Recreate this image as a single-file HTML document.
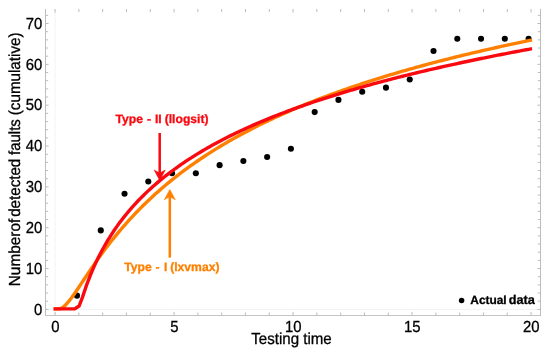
<!DOCTYPE html>
<html><head><meta charset="utf-8"><title>Chart</title>
<style>html,body{margin:0;padding:0;background:#fff}svg{display:block}text{text-rendering:geometricPrecision}.t{font-family:'Liberation Sans',sans-serif}</style></head>
<body>
<svg width="550" height="354" viewBox="0 0 550 354">
<rect width="550" height="354" fill="#fff"/>
<line x1="55.07" y1="9" x2="55.07" y2="315.5" stroke="#f3f3f3" stroke-width="1"/>
<line x1="45.5" y1="309.5" x2="540.5" y2="309.5" stroke="#f3f3f3" stroke-width="1"/>
<line x1="45.5" y1="9" x2="45.5" y2="316" stroke="#bdbdbd" stroke-width="1"/>
<line x1="540.5" y1="9" x2="540.5" y2="316" stroke="#bdbdbd" stroke-width="1"/>
<line x1="45" y1="315.5" x2="541" y2="315.5" stroke="#c4c4c4" stroke-width="1"/>
<path d="M55.07,315.5v-3.6M55.07,9v3.6M78.87,315.5v-3.0M78.87,9v3.0M102.67,315.5v-3.0M102.67,9v3.0M126.47,315.5v-3.0M126.47,9v3.0M150.27,315.5v-3.0M150.27,9v3.0M174.07,315.5v-3.6M174.07,9v3.6M197.87,315.5v-3.0M197.87,9v3.0M221.67,315.5v-3.0M221.67,9v3.0M245.47,315.5v-3.0M245.47,9v3.0M269.27,315.5v-3.0M269.27,9v3.0M293.07,315.5v-3.6M293.07,9v3.6M316.87,315.5v-3.0M316.87,9v3.0M340.67,315.5v-3.0M340.67,9v3.0M364.47,315.5v-3.0M364.47,9v3.0M388.27,315.5v-3.0M388.27,9v3.0M412.07,315.5v-3.6M412.07,9v3.6M435.87,315.5v-3.0M435.87,9v3.0M459.67,315.5v-3.0M459.67,9v3.0M483.47,315.5v-3.0M483.47,9v3.0M507.27,315.5v-3.0M507.27,9v3.0M531.07,315.5v-3.6M531.07,9v3.6M45.5,309.40h3.1M540.5,309.40h-3.1M45.5,301.23h2.7M540.5,301.23h-2.7M45.5,293.06h2.7M540.5,293.06h-2.7M45.5,284.90h2.7M540.5,284.90h-2.7M45.5,276.73h2.7M540.5,276.73h-2.7M45.5,268.56h3.1M540.5,268.56h-3.1M45.5,260.39h2.7M540.5,260.39h-2.7M45.5,252.22h2.7M540.5,252.22h-2.7M45.5,244.06h2.7M540.5,244.06h-2.7M45.5,235.89h2.7M540.5,235.89h-2.7M45.5,227.72h3.1M540.5,227.72h-3.1M45.5,219.55h2.7M540.5,219.55h-2.7M45.5,211.38h2.7M540.5,211.38h-2.7M45.5,203.22h2.7M540.5,203.22h-2.7M45.5,195.05h2.7M540.5,195.05h-2.7M45.5,186.88h3.1M540.5,186.88h-3.1M45.5,178.71h2.7M540.5,178.71h-2.7M45.5,170.54h2.7M540.5,170.54h-2.7M45.5,162.38h2.7M540.5,162.38h-2.7M45.5,154.21h2.7M540.5,154.21h-2.7M45.5,146.04h3.1M540.5,146.04h-3.1M45.5,137.87h2.7M540.5,137.87h-2.7M45.5,129.70h2.7M540.5,129.70h-2.7M45.5,121.54h2.7M540.5,121.54h-2.7M45.5,113.37h2.7M540.5,113.37h-2.7M45.5,105.20h3.1M540.5,105.20h-3.1M45.5,97.03h2.7M540.5,97.03h-2.7M45.5,88.86h2.7M540.5,88.86h-2.7M45.5,80.70h2.7M540.5,80.70h-2.7M45.5,72.53h2.7M540.5,72.53h-2.7M45.5,64.36h3.1M540.5,64.36h-3.1M45.5,56.19h2.7M540.5,56.19h-2.7M45.5,48.02h2.7M540.5,48.02h-2.7M45.5,39.86h2.7M540.5,39.86h-2.7M45.5,31.69h2.7M540.5,31.69h-2.7M45.5,23.52h3.1M540.5,23.52h-3.1M45.5,15.35h2.7M540.5,15.35h-2.7" stroke="#bcbcbc" stroke-width="1" fill="none"/>
<circle cx="77.00" cy="295.65" r="3.05" fill="#000"/>
<circle cx="100.77" cy="230.40" r="3.05" fill="#000"/>
<circle cx="124.53" cy="193.69" r="3.05" fill="#000"/>
<circle cx="148.30" cy="181.45" r="3.05" fill="#000"/>
<circle cx="172.07" cy="173.30" r="3.05" fill="#000"/>
<circle cx="195.84" cy="173.30" r="3.05" fill="#000"/>
<circle cx="219.61" cy="165.14" r="3.05" fill="#000"/>
<circle cx="243.37" cy="161.06" r="3.05" fill="#000"/>
<circle cx="267.14" cy="156.98" r="3.05" fill="#000"/>
<circle cx="290.91" cy="148.82" r="3.05" fill="#000"/>
<circle cx="314.68" cy="112.12" r="3.05" fill="#000"/>
<circle cx="338.45" cy="99.88" r="3.05" fill="#000"/>
<circle cx="362.21" cy="91.72" r="3.05" fill="#000"/>
<circle cx="385.98" cy="87.65" r="3.05" fill="#000"/>
<circle cx="409.75" cy="79.49" r="3.05" fill="#000"/>
<circle cx="433.52" cy="50.94" r="3.05" fill="#000"/>
<circle cx="457.29" cy="38.70" r="3.05" fill="#000"/>
<circle cx="481.05" cy="38.70" r="3.05" fill="#000"/>
<circle cx="504.82" cy="38.70" r="3.05" fill="#000"/>
<circle cx="528.59" cy="38.70" r="3.05" fill="#000"/>
<path d="M53.60,308.90 L55.07,308.90 L57.45,308.90 L59.83,308.90 L62.21,307.83 L64.59,305.96 L66.97,303.53 L69.35,300.68 L71.73,297.54 L74.11,294.20 L76.49,290.74 L78.87,287.20 L81.25,283.62 L83.63,280.03 L86.01,276.45 L88.39,272.89 L90.77,269.37 L93.15,265.89 L95.53,262.47 L97.91,259.09 L100.29,255.77 L102.67,252.51 L105.05,249.31 L107.43,246.17 L109.81,243.08 L112.19,240.06 L114.57,237.09 L116.95,234.18 L119.33,231.32 L121.71,228.52 L124.09,225.77 L126.47,223.08 L128.85,220.44 L131.23,217.84 L133.61,215.29 L135.99,212.79 L138.37,210.34 L140.75,207.93 L143.13,205.56 L145.51,203.24 L147.89,200.96 L150.27,198.71 L152.65,196.51 L155.03,194.34 L157.41,192.21 L159.79,190.12 L162.17,188.06 L164.55,186.03 L166.93,184.04 L169.31,182.07 L171.69,180.14 L174.07,178.24 L176.45,176.37 L178.83,174.53 L181.21,172.71 L183.59,170.93 L185.97,169.17 L188.35,167.43 L190.73,165.72 L193.11,164.04 L195.49,162.38 L197.87,160.74 L200.25,159.12 L202.63,157.53 L205.01,155.96 L207.39,154.41 L209.77,152.88 L212.15,151.37 L214.53,149.88 L216.91,148.41 L219.29,146.96 L221.67,145.53 L224.05,144.12 L226.43,142.72 L228.81,141.34 L231.19,139.98 L233.57,138.64 L235.95,137.31 L238.33,136.00 L240.71,134.70 L243.09,133.42 L245.47,132.15 L247.85,130.90 L250.23,129.66 L252.61,128.44 L254.99,127.23 L257.37,126.03 L259.75,124.85 L262.13,123.68 L264.51,122.52 L266.89,121.37 L269.27,120.24 L271.65,119.12 L274.03,118.01 L276.41,116.91 L278.79,115.83 L281.17,114.75 L283.55,113.69 L285.93,112.64 L288.31,111.60 L290.69,110.56 L293.07,109.54 L295.45,108.53 L297.83,107.53 L300.21,106.54 L302.59,105.56 L304.97,104.58 L307.35,103.62 L309.73,102.66 L312.11,101.72 L314.49,100.78 L316.87,99.85 L319.25,98.93 L321.63,98.02 L324.01,97.12 L326.39,96.23 L328.77,95.34 L331.15,94.46 L333.53,93.59 L335.91,92.73 L338.29,91.87 L340.67,91.02 L343.05,90.18 L345.43,89.35 L347.81,88.52 L350.19,87.70 L352.57,86.88 L354.95,86.08 L357.33,85.28 L359.71,84.49 L362.09,83.70 L364.47,82.92 L366.85,82.14 L369.23,81.38 L371.61,80.61 L373.99,79.86 L376.37,79.11 L378.75,78.37 L381.13,77.63 L383.51,76.89 L385.89,76.17 L388.27,75.45 L390.65,74.73 L393.03,74.02 L395.41,73.32 L397.79,72.62 L400.17,71.92 L402.55,71.23 L404.93,70.55 L407.31,69.87 L409.69,69.19 L412.07,68.53 L414.45,67.86 L416.83,67.20 L419.21,66.55 L421.59,65.90 L423.97,65.25 L426.35,64.61 L428.73,63.97 L431.11,63.34 L433.49,62.71 L435.87,62.09 L438.25,61.47 L440.63,60.85 L443.01,60.24 L445.39,59.63 L447.77,59.03 L450.15,58.43 L452.53,57.84 L454.91,57.25 L457.29,56.66 L459.67,56.08 L462.05,55.50 L464.43,54.92 L466.81,54.35 L469.19,53.78 L471.57,53.21 L473.95,52.65 L476.33,52.10 L478.71,51.54 L481.09,50.99 L483.47,50.44 L485.85,49.90 L488.23,49.36 L490.61,48.82 L492.99,48.29 L495.37,47.76 L497.75,47.23 L500.13,46.71 L502.51,46.19 L504.89,45.67 L507.27,45.15 L509.65,44.64 L512.03,44.13 L514.41,43.63 L516.79,43.12 L519.17,42.62 L521.55,42.13 L523.93,41.63 L526.31,41.14 L528.69,40.65 L531.07,40.17 L532.05,39.97" fill="none" stroke="#ff8000" stroke-width="3.4" stroke-linejoin="round" stroke-linecap="butt"/>
<path d="M53.60,308.90 L55.07,308.90 L74.70,308.90 L79.10,306.00 L82.44,297.37 L83.63,293.67 L86.01,286.70 L88.39,280.26 L90.77,274.25 L93.15,268.64 L95.53,263.36 L97.91,258.39 L100.29,253.69 L102.67,249.22 L105.05,244.98 L107.43,240.93 L109.81,237.06 L112.19,233.36 L114.57,229.81 L116.95,226.40 L119.33,223.11 L121.71,219.95 L124.09,216.90 L126.47,213.95 L128.85,211.09 L131.23,208.33 L133.61,205.65 L135.99,203.06 L138.37,200.53 L140.75,198.08 L143.13,195.70 L145.51,193.38 L147.89,191.12 L150.27,188.92 L152.65,186.77 L155.03,184.67 L157.41,182.62 L159.79,180.62 L162.17,178.67 L164.55,176.76 L166.93,174.88 L169.31,173.05 L171.69,171.26 L174.07,169.50 L176.45,167.78 L178.83,166.09 L181.21,164.43 L183.59,162.80 L185.97,161.21 L188.35,159.64 L190.73,158.10 L193.11,156.59 L195.49,155.10 L197.87,153.64 L200.25,152.20 L202.63,150.78 L205.01,149.39 L207.39,148.02 L209.77,146.67 L212.15,145.34 L214.53,144.04 L216.91,142.75 L219.29,141.48 L221.67,140.22 L224.05,138.99 L226.43,137.77 L228.81,136.57 L231.19,135.39 L233.57,134.22 L235.95,133.07 L238.33,131.93 L240.71,130.81 L243.09,129.70 L245.47,128.61 L247.85,127.53 L250.23,126.46 L252.61,125.40 L254.99,124.36 L257.37,123.33 L259.75,122.31 L262.13,121.31 L264.51,120.31 L266.89,119.33 L269.27,118.36 L271.65,117.40 L274.03,116.45 L276.41,115.51 L278.79,114.58 L281.17,113.65 L283.55,112.74 L285.93,111.84 L288.31,110.95 L290.69,110.07 L293.07,109.19 L295.45,108.33 L297.83,107.47 L300.21,106.62 L302.59,105.78 L304.97,104.95 L307.35,104.12 L309.73,103.31 L312.11,102.50 L314.49,101.69 L316.87,100.90 L319.25,100.11 L321.63,99.33 L324.01,98.56 L326.39,97.79 L328.77,97.03 L331.15,96.28 L333.53,95.53 L335.91,94.79 L338.29,94.06 L340.67,93.33 L343.05,92.61 L345.43,91.89 L347.81,91.18 L350.19,90.48 L352.57,89.78 L354.95,89.08 L357.33,88.40 L359.71,87.71 L362.09,87.04 L364.47,86.36 L366.85,85.70 L369.23,85.04 L371.61,84.38 L373.99,83.73 L376.37,83.08 L378.75,82.44 L381.13,81.80 L383.51,81.17 L385.89,80.54 L388.27,79.92 L390.65,79.30 L393.03,78.68 L395.41,78.07 L397.79,77.47 L400.17,76.86 L402.55,76.27 L404.93,75.67 L407.31,75.08 L409.69,74.50 L412.07,73.91 L414.45,73.34 L416.83,72.76 L419.21,72.19 L421.59,71.62 L423.97,71.06 L426.35,70.50 L428.73,69.95 L431.11,69.39 L433.49,68.84 L435.87,68.30 L438.25,67.76 L440.63,67.22 L443.01,66.68 L445.39,66.15 L447.77,65.62 L450.15,65.10 L452.53,64.57 L454.91,64.05 L457.29,63.54 L459.67,63.02 L462.05,62.51 L464.43,62.01 L466.81,61.50 L469.19,61.00 L471.57,60.50 L473.95,60.01 L476.33,59.51 L478.71,59.02 L481.09,58.54 L483.47,58.05 L485.85,57.57 L488.23,57.09 L490.61,56.61 L492.99,56.14 L495.37,55.67 L497.75,55.20 L500.13,54.73 L502.51,54.27 L504.89,53.81 L507.27,53.35 L509.65,52.89 L512.03,52.44 L514.41,51.98 L516.79,51.53 L519.17,51.09 L521.55,50.64 L523.93,50.20 L526.31,49.76 L528.69,49.32 L531.07,48.88 L532.05,48.70" fill="none" stroke="#f90a10" stroke-width="3.4" stroke-linejoin="round" stroke-linecap="butt"/>
<line x1="159.7" y1="133" x2="159.7" y2="175.4" stroke="#f90a10" stroke-width="2.5"/><path d="M159.7,180.4 L154.1,170.0 L159.7,173.0 L165.29999999999998,170.0Z" fill="#f90a10" stroke="#f90a10" stroke-width="0.5" stroke-linejoin="round"/>
<line x1="169.8" y1="257.6" x2="169.8" y2="194.4" stroke="#ff8000" stroke-width="2.5"/><path d="M169.8,189.4 L164.20000000000002,199.8 L169.8,196.8 L175.4,199.8Z" fill="#ff8000" stroke="#ff8000" stroke-width="0.5" stroke-linejoin="round"/>
<text y="122.7" class="t" font-size="12.15" font-weight="bold" fill="#f90a10" stroke="#f90a10" stroke-width="0.3" xml:space="preserve"><tspan x="115.55">Type </tspan><tspan x="147.0">- </tspan><tspan x="154.9">II </tspan><tspan x="164.7">(llogsit)</tspan></text>
<text y="270.8" class="t" font-size="12.15" font-weight="bold" fill="#ff8000" stroke="#ff8000" stroke-width="0.3" xml:space="preserve"><tspan x="124.35">Type </tspan><tspan x="155.6">- </tspan><tspan x="164.0">I </tspan><tspan x="170.2">(lxvmax)</tspan></text>
<circle cx="461.6" cy="300.6" r="2.75" fill="#000"/>
<text y="304.3" class="t" font-size="11.9" font-weight="bold" fill="#000" stroke="#000" stroke-width="0.3" xml:space="preserve"><tspan x="470.3">Actual </tspan><tspan x="508.8" font-size="12.7">data</tspan></text>
<text transform="translate(55.27,331.5) scale(0.93,1)" class="t" font-size="16" text-anchor="middle" fill="#000" stroke="#000" stroke-width="0.3">0</text>
<text transform="translate(174.27,331.5) scale(0.93,1)" class="t" font-size="16" text-anchor="middle" fill="#000" stroke="#000" stroke-width="0.3">5</text>
<text transform="translate(293.27,331.5) scale(0.93,1)" class="t" font-size="16" text-anchor="middle" fill="#000" stroke="#000" stroke-width="0.3">10</text>
<text transform="translate(412.27,331.5) scale(0.93,1)" class="t" font-size="16" text-anchor="middle" fill="#000" stroke="#000" stroke-width="0.3">15</text>
<text transform="translate(531.27,331.5) scale(0.93,1)" class="t" font-size="16" text-anchor="middle" fill="#000" stroke="#000" stroke-width="0.3">20</text>
<text transform="translate(42.4,314.60) scale(0.93,1)" class="t" font-size="16" text-anchor="end" fill="#000" stroke="#000" stroke-width="0.3">0</text>
<text transform="translate(42.4,273.76) scale(0.93,1)" class="t" font-size="16" text-anchor="end" fill="#000" stroke="#000" stroke-width="0.3">10</text>
<text transform="translate(42.4,232.92) scale(0.93,1)" class="t" font-size="16" text-anchor="end" fill="#000" stroke="#000" stroke-width="0.3">20</text>
<text transform="translate(42.4,192.08) scale(0.93,1)" class="t" font-size="16" text-anchor="end" fill="#000" stroke="#000" stroke-width="0.3">30</text>
<text transform="translate(42.4,151.24) scale(0.93,1)" class="t" font-size="16" text-anchor="end" fill="#000" stroke="#000" stroke-width="0.3">40</text>
<text transform="translate(42.4,110.40) scale(0.93,1)" class="t" font-size="16" text-anchor="end" fill="#000" stroke="#000" stroke-width="0.3">50</text>
<text transform="translate(42.4,69.56) scale(0.93,1)" class="t" font-size="16" text-anchor="end" fill="#000" stroke="#000" stroke-width="0.3">60</text>
<text transform="translate(42.4,28.72) scale(0.93,1)" class="t" font-size="16" text-anchor="end" fill="#000" stroke="#000" stroke-width="0.3">70</text>
<text transform="translate(291.5,344) scale(0.942,1)" class="t" font-size="16" text-anchor="middle" fill="#000" stroke="#000" stroke-width="0.3">Testing time</text>
<text transform="translate(20.2,0) rotate(-90) scale(0.948,1)" y="0" class="t" font-size="16" fill="#000" stroke="#000" stroke-width="0.3" xml:space="preserve"><tspan x="-301.95" textLength="71.14" lengthAdjust="spacingAndGlyphs">Numberof</tspan><tspan> </tspan><tspan x="-228.70" textLength="61.25" lengthAdjust="spacingAndGlyphs">detected</tspan><tspan> </tspan><tspan x="-163.42" textLength="37.60" lengthAdjust="spacingAndGlyphs">faults</tspan><tspan> </tspan><tspan x="-121.52" textLength="87.22" lengthAdjust="spacingAndGlyphs">(cumulative)</tspan></text>
</svg>
</body></html>
